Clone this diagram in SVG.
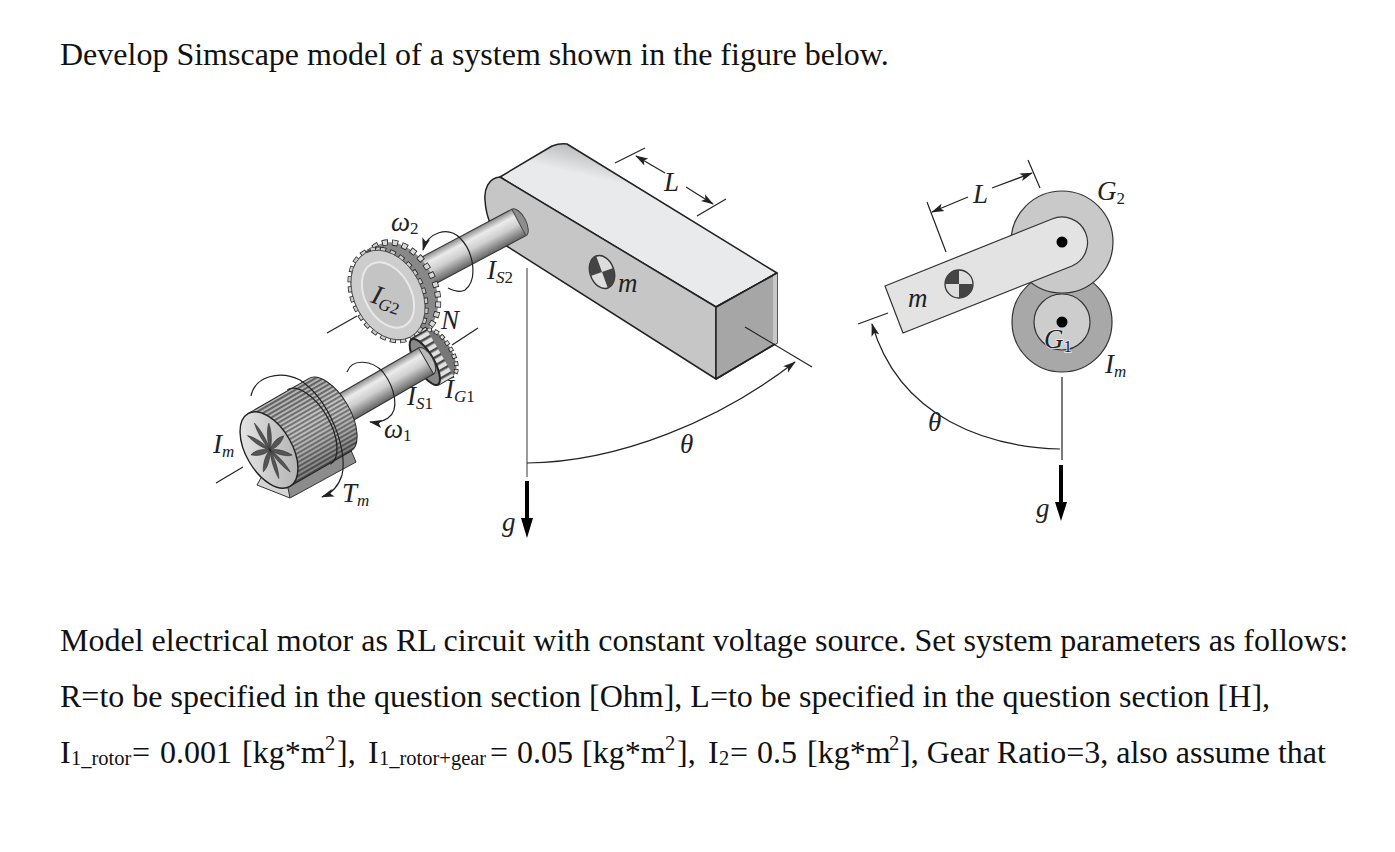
<svg xmlns="http://www.w3.org/2000/svg" width="1395" height="852" viewBox="0 0 1395 852">
<style>
.t{font-family:"Liberation Serif","Times New Roman",serif;font-size:32px;fill:#111}
.s{font-size:20.500px}
.l{font-family:"Liberation Serif","Times New Roman",serif;font-style:italic;font-size:27px;fill:#222}
.b{font-size:17px}
.n{font-size:17px;font-style:normal}
.k{stroke:#222;stroke-width:1.200;fill:none}
.o{stroke:#222;stroke-width:1.500;stroke-linejoin:round}
</style>
<defs>
<marker id="a" markerWidth="13" markerHeight="9" refX="12" refY="4.500" orient="auto-start-reverse" markerUnits="userSpaceOnUse"><path d="M0 0.500L13 4.500L0 8.500L3 4.500Z" fill="#222"/></marker>
<linearGradient id="sh" x1="0" y1="0" x2="0" y2="1"><stop offset="0" stop-color="#8c8c8c"/><stop offset=".25" stop-color="#ebebeb"/><stop offset=".55" stop-color="#cfcfcf"/><stop offset="1" stop-color="#636363"/></linearGradient>
<linearGradient id="top" x1="0" y1="1" x2="0.4" y2="0"><stop offset="0" stop-color="#e8eaec"/><stop offset=".8" stop-color="#e8eaec"/><stop offset="1" stop-color="#aaa"/></linearGradient>
<pattern id="fin" width="4" height="4" patternUnits="userSpaceOnUse"><rect width="4" height="4" fill="#c4c4c4"/><rect width="4" height="2.200" fill="#666"/></pattern>
<pattern id="fin2" width="7" height="7" patternUnits="userSpaceOnUse"><rect width="7" height="7" fill="#e0e0e0"/><rect width="7" height="2.500" fill="#4a4a4a"/></pattern>
<linearGradient id="mo" x1="0" y1="0" x2="0" y2="1"><stop offset="0" stop-color="#000" stop-opacity=".05"/><stop offset=".4" stop-color="#fff" stop-opacity=".1"/><stop offset="1" stop-color="#000" stop-opacity=".35"/></linearGradient>
<linearGradient id="face" x1="0" y1="0" x2="1" y2="1"><stop offset="0" stop-color="#eee"/><stop offset="1" stop-color="#aaa"/></linearGradient>
<path id="petal" d="M0 0C3.500 -10 3.500 -22 0 -31C-3.500 -22 -3.500 -10 0 0Z" fill="#555" stroke="#222" stroke-width=".6"/>
</defs>
<rect width="1395" height="852" fill="#fff"/>

<g id="text">
<text class="t" x="60" y="65">Develop Simscape model of a system shown in the figure below.</text>
<text class="t" x="60" y="651">Model electrical motor as RL circuit with constant voltage source. Set system parameters as follows:</text>
<text class="t" x="60" y="707">R=to be specified in the question section [Ohm], L=to be specified in the question section [H],</text>
<text class="t" y="763"><tspan x="60">I</tspan><tspan class="s" x="71" dy="2">1_rotor</tspan><tspan x="132" dy="-2">=</tspan><tspan x="160">0.001</tspan><tspan x="242">[kg*m</tspan><tspan class="s" x="325" dy="-13">2</tspan><tspan x="337" dy="13">],</tspan><tspan x="368">I</tspan><tspan class="s" x="379" dy="2">1_rotor+gear</tspan><tspan x="490" dy="-2">=</tspan><tspan x="517">0.05</tspan><tspan x="582">[kg*m</tspan><tspan class="s" x="665" dy="-13">2</tspan><tspan x="677" dy="13">],</tspan><tspan x="708">I</tspan><tspan class="s" x="719" dy="2">2</tspan><tspan x="730" dy="-2">=</tspan><tspan x="757">0.5</tspan><tspan x="807">[kg*m</tspan><tspan class="s" x="889" dy="-13">2</tspan><tspan x="900" dy="13">], Gear Ratio=3, also assume that</tspan></text>
</g>

<g id="block">
<path d="M500 177L552 146Q560 143 567 144L777 273L716 307Z" fill="url(#top)" class="o"/>
<path d="M500 177C488 178 484 190 485 200C486 220 495 236 505 245L716 379V307Z" fill="#c6c6c6" class="o"/>
<path d="M716 307L777 273V343L716 379Z" fill="#a6a6a6" class="o"/>
<path d="M773 275.500L777 273V343L773 345.500Z" fill="#c8c8c8"/>
<path d="M716 307L777 273M716 379L775 344" stroke="#222" stroke-width="1.500"/>
<g transform="translate(602,272) rotate(-20)"><ellipse rx="12" ry="17" fill="#ddd" stroke="#333" stroke-width="1.400"/><path d="M0 0L0 -17A12 17 0 0 0 -12 0ZM0 0L0 17A12 17 0 0 0 12 0Z" fill="#444"/></g>
</g>

<g id="shaft2" transform="translate(420,275) rotate(-28)">
<rect x="0" y="-15" width="112" height="30" fill="url(#sh)"/>
<path d="M0 -15H112M0 15H112" stroke="#333"/>
<path d="M112 -15A7 15 0 0 1 112 15Z" fill="#8e8e8e" stroke="#444"/>
</g>

<g id="gear2" transform="translate(388,295) rotate(-28)">
<ellipse cx="14" rx="34" ry="49" fill="#888" stroke="#222" stroke-width="6" pathLength="260" stroke-dasharray="6 4"/>
<ellipse cx="14" rx="34" ry="49" fill="none" stroke="#d8d8d8" stroke-width="4.500" pathLength="260" stroke-dasharray="4.400 5.600" stroke-dashoffset="-0.800"/>
<rect x="0" y="-49" width="14" height="98" fill="url(#fin2)"/>
<ellipse rx="34" ry="48" fill="#555" stroke="#222" stroke-width="6" pathLength="260" stroke-dasharray="6 4"/>
<ellipse rx="34" ry="48" fill="none" stroke="#cbcbcb" stroke-width="4.500" pathLength="260" stroke-dasharray="4.400 5.600" stroke-dashoffset="-0.800"/>
<ellipse rx="33.500" ry="47.500" fill="#cdcdcd" stroke="#444" stroke-width=".8"/>
<ellipse rx="23" ry="35" fill="#c4c4c4" stroke="#e8e8e8" stroke-width="2"/>
</g>

<g id="gear1" transform="translate(430,359) rotate(-30)">
<ellipse cx="12" rx="11" ry="26" fill="#777" stroke="#222" stroke-width="4.500" pathLength="160" stroke-dasharray="6 4"/>
<ellipse cx="12" rx="11" ry="26" fill="none" stroke="#ddd" stroke-width="3" pathLength="160" stroke-dasharray="4 6" stroke-dashoffset="-1"/>
<rect x="-6" y="-27" width="18" height="54" fill="url(#fin2)"/>
<path d="M-6 -27H12M-6 27H12" stroke="#222"/>
<ellipse cx="-6" rx="9" ry="26" fill="#888" stroke="#222" stroke-width="2"/>
</g>
<g id="shaft1" transform="translate(336,413) rotate(-30)">
<rect x="0" y="-15" width="104" height="30" fill="url(#sh)"/>
<path d="M0 -15H104M0 15H104" stroke="#333"/>
<path d="M104 -15A7 15 0 0 1 104 15Z" fill="#bbb" stroke="#333"/>
</g>

<g id="motor-base">
<path d="M284 486L290 498L356 462L350 448Z" fill="#8c8c8c" stroke="#333"/>
<path d="M257 485L290 498L288 488L262 476Z" fill="#d5d5d5" stroke="#333"/>
</g>
<g id="motor" transform="translate(269,450) rotate(-30)">
<path d="M0 -42H70A20 41 0 0 1 70 42H0Z" fill="url(#fin)" stroke="#222"/>
<path d="M0 -42H70A20 41 0 0 1 70 42H0Z" fill="url(#mo)"/>
<path d="M46 -43A21 43 0 0 1 46 43" fill="none" stroke="#222" stroke-width="1.300"/>
<ellipse rx="23" ry="42" fill="url(#face)" stroke="#222" stroke-width="1.400"/>
</g>
<g id="motor-fan" transform="translate(270,450) rotate(-30) scale(.62,1)">
<use href="#petal" transform="rotate(0)"/><use href="#petal" transform="rotate(40)"/><use href="#petal" transform="rotate(80)"/><use href="#petal" transform="rotate(120)"/><use href="#petal" transform="rotate(160)"/><use href="#petal" transform="rotate(200)"/><use href="#petal" transform="rotate(240)"/><use href="#petal" transform="rotate(280)"/><use href="#petal" transform="rotate(320)"/>
</g>

<g id="side-view">
<circle cx="1062" cy="322" r="50" fill="#a8a8a8" stroke="#333" stroke-width="1.200"/>
<circle cx="1062" cy="322" r="28" fill="#cdcdcd" stroke="#333" stroke-width="1.200"/>
<circle cx="1062" cy="322" r="5.500" fill="#000"/>
<circle cx="1062" cy="242" r="51" fill="#c9c9c9" stroke="#333" stroke-width="1.200"/>
<path d="M885 286L1052 219A25.500 25.500 0 0 1 1072 266L903 333Z" fill="#e3e3e3" stroke="#333" stroke-width="1.200"/>
<circle cx="1062" cy="242" r="5.500" fill="#000"/>
<circle cx="959" cy="284" r="14" fill="#ddd" stroke="#333" stroke-width="1.300"/>
<path d="M959 284V270A14 14 0 0 0 945 284ZM959 284V298A14 14 0 0 0 973 284Z" fill="#444"/>
</g>

<g id="connectors">
<path class="k" d="M327 333L357 316M452 345L478 328M216 483L243 467"/>
<path class="k" d="M347 372C352 358 372 360 383 372C395 388 400 410 388 418C382 422 376 423 370 422" marker-end="url(#a)"/>
<path class="k" d="M423 250C428 232 448 226 460 238C474 252 478 280 465 290C460 293 454 291 448 288" marker-start="url(#a)"/>
<path class="k" d="M251 396C255 376 280 370 300 380C330 400 348 450 342 475C338 488 330 494 322 497" marker-end="url(#a)"/>
<path class="k" d="M745 327L812 367"/>
<path class="k" d="M615 163L645 148M697 216L726 199"/>
<path class="k" d="M665 173L636 156" marker-end="url(#a)"/>
<path class="k" d="M686 187L713 204" marker-end="url(#a)"/>
<path d="M527 268V477" stroke="#666" stroke-width="1.300"/>
<path d="M527 481V522" stroke="#000" stroke-width="4"/>
<path d="M521 518H533L527 538Z" fill="#000"/>
<path class="k" d="M527 463C620 462 720 420 795 362" marker-end="url(#a)"/>
<path class="k" d="M927 202L946 252M1028 160L1040 188"/>
<path class="k" d="M968 197L932 212" marker-end="url(#a)"/>
<path class="k" d="M992 188L1032 173" marker-end="url(#a)"/>
<path class="k" d="M858 324L888 313"/>
<path class="k" d="M1062 377V460"/>
<path d="M1061 465V505" stroke="#000" stroke-width="4"/>
<path d="M1055 502H1067L1061 521Z" fill="#000"/>
<path class="k" d="M1060 449C990 447 900 420 872 324" marker-end="url(#a)"/>
</g>

<g id="labels">
<text class="l" x="213" y="453">I<tspan class="b" dy="4">m</tspan></text>
<text class="l" x="487" y="279">I<tspan class="b" dy="4">S</tspan><tspan class="n">2</tspan></text>
<text class="l" transform="translate(370,302) rotate(18)">I<tspan class="b" dy="4">G</tspan><tspan class="n">2</tspan></text>
<text class="l" x="391" y="231">ω<tspan class="n" dy="3">2</tspan></text>
<text class="l" x="441" y="329">N</text>
<text class="l" x="445" y="398">I<tspan class="b" dy="4">G</tspan><tspan class="n">1</tspan></text>
<text class="l" x="407" y="405">I<tspan class="b" dy="4">S</tspan><tspan class="n">1</tspan></text>
<text class="l" x="384" y="438">ω<tspan class="n" dy="3">1</tspan></text>
<text class="l" x="342" y="502">T<tspan class="b" dy="4">m</tspan></text>
<text class="l" x="664" y="191">L</text>
<text class="l" x="618" y="292">m</text>
<text class="l" x="680" y="453">θ</text>
<text class="l" x="502" y="531">g</text>
<text class="l" x="973" y="203">L</text>
<text class="l" x="1097" y="200">G<tspan class="n" dy="4">2</tspan></text>
<text class="l" x="1105" y="373">I<tspan class="b" dy="4">m</tspan></text>
<text class="l" x="1044" y="348" style="paint-order:stroke;stroke:#eee;stroke-width:1.500px">G<tspan class="n" dy="4">1</tspan></text>
<text class="l" x="908" y="307">m</text>
<text class="l" x="928" y="431">θ</text>
<text class="l" x="1036" y="517">g</text>
</g>
</svg>
